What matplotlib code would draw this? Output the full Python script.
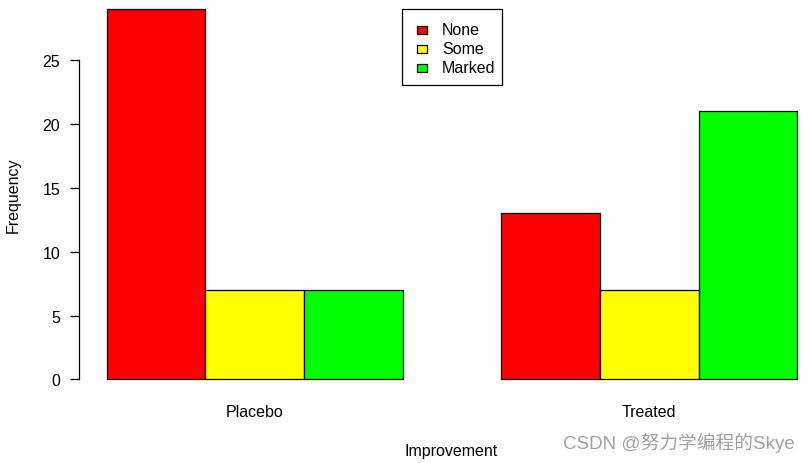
import matplotlib
matplotlib.use("Agg")
import matplotlib.pyplot as plt
import numpy as np
from matplotlib.patches import Rectangle

groups = ["Placebo", "Treated"]
levels = ["None", "Some", "Marked"]
counts = {
    "None": [29, 13],
    "Some": [7, 7],
    "Marked": [7, 21],
}
colors = {"None": "#FF0000", "Some": "#FFFF00", "Marked": "#00FF00"}
yticks = [0, 5, 10, 15, 20, 25]

W, H = 810, 464
fig = plt.figure(figsize=(W / 100, H / 100), dpi=100)
plt.rcParams['font.family'] = ['Liberation Sans', 'DejaVu Sans']

# Main axes matching R barplot region (beside=TRUE, space=c(0,1))
ax = fig.add_axes([0.0974, 0.1484, 0.9211, 0.8613])
ax.set_xlim(0.72, 8.28)
ax.set_ylim(-1.16, 30.16)
for gi, g in enumerate(groups):
    start = 1 + gi * 4
    for li, lv in enumerate(levels):
        ax.bar(start + li, counts[lv][gi], width=1, align="edge",
               color=colors[lv], edgecolor="black", linewidth=0.9)

for s in ["top", "right", "bottom"]:
    ax.spines[s].set_visible(False)
ax.spines["left"].set_bounds(0, 25)
ax.spines["left"].set_linewidth(0.9)
ax.set_yticks(yticks)
ax.set_yticklabels([str(t) for t in yticks])
ax.tick_params(axis="y", direction="out", length=6.5, width=0.9, pad=7, labelsize=11.5)
ax.set_xticks([])
ax.patch.set_alpha(0)

# Overlay in pixel coordinates for annotation text and legend
ov = fig.add_axes([0, 0, 1, 1])
ov.set_xlim(0, W)
ov.set_ylim(H, 0)
ov.axis("off")
ov.patch.set_alpha(0)

# group labels
for gi, g in enumerate(groups):
    xc = 1 + gi * 4 + 1.5
    xp = ax.transData.transform((xc, 0))[0]
    ov.text(xp, 413, g, ha="center", va="center", fontsize=11.5)

ov.text(451, 452, "Improvement", ha="center", va="center", fontsize=11.5)
ov.text(13, 195, "Frequency", ha="center", va="center", rotation=90, fontsize=11.5)

# legend
ov.add_patch(Rectangle((401.5, 9.5), 100.5, 76.5, fill=False, edgecolor="black", linewidth=0.9))
for i, lv in enumerate(levels):
    yc = 30.5 + i * 19
    ov.add_patch(Rectangle((416.5, yc - 4), 10, 8, facecolor=colors[lv], edgecolor="black", linewidth=0.9))
    ov.text(442, yc, lv, ha="left", va="center", fontsize=11.5)

# watermark
ov.text(795, 443, "CSDN @努力学编程的Skye", ha="right", va="center", fontsize=13.5,
        color="#A0A0A0", family=["Liberation Sans", "Noto Sans CJK SC"])

fig.savefig("out.png", dpi=100)
